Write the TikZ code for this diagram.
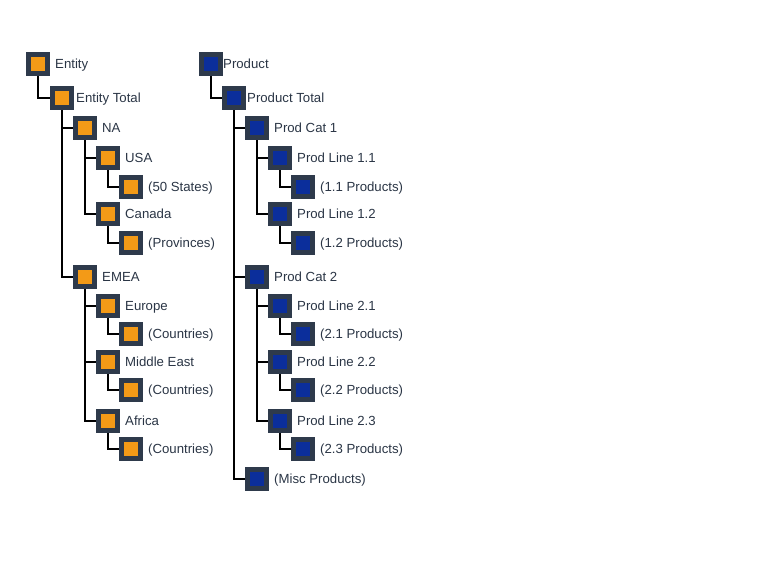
\documentclass[tikz,border=0pt]{standalone}
\usepackage{fontspec}
\setmainfont{Liberation Sans}
\definecolor{slate}{HTML}{2E3A4B}
\definecolor{amber}{HTML}{F39A17}
\definecolor{navy}{HTML}{0B2E9B}
\definecolor{ink}{HTML}{2A3545}
\begin{document}
\begin{tikzpicture}[x=1pt,y=-1pt,
    box/.style={draw=slate, line width=5pt, minimum size=19pt, inner sep=0pt},
    obox/.style={box, fill=amber},
    bbox/.style={box, fill=navy},
    lbl/.style={text=ink, font=\fontsize{13.2}{15}\selectfont, inner sep=1pt, text height=9.5pt, text depth=0pt},
    every label/.style={lbl},
    label distance=4pt,
    link/.style={line width=2.6pt, black}]
\useasboundingbox (0,0) rectangle (768,576);
% entity tree
\node at (38,64) (ent) [obox, label={right:Entity}] {};
\node at (62,98) (entt) [obox, label={[label distance=1pt]right:Entity Total}] {};
\node at (85,128) (na) [obox, label={right:NA}] {};
\node at (108,158) (usa) [obox, label={right:USA}] {};
\node at (131,187) (usast) [obox, label={right:(50 States)}] {};
\node at (108,214) (can) [obox, label={right:Canada}] {};
\node at (131,243) (canpr) [obox, label={right:(Provinces)}] {};
\node at (85,277) (emea) [obox, label={right:EMEA}] {};
\node at (108,306) (eur) [obox, label={right:Europe}] {};
\node at (131,334) (eurc) [obox, label={right:(Countries)}] {};
\node at (108,362) (me) [obox, label={right:Middle East}] {};
\node at (131,390) (mec) [obox, label={right:(Countries)}] {};
\node at (108,421) (afr) [obox, label={right:Africa}] {};
\node at (131,449) (afrc) [obox, label={right:(Countries)}] {};
% product tree
\node at (211,64) (prod) [bbox, label={[label distance=-1pt]right:Product}] {};
\node at (234,98) (prodt) [bbox, label={[label distance=0pt]right:Product Total}] {};
\node at (257,128) (cat1) [bbox, label={right:Prod Cat 1}] {};
\node at (280,158) (line11) [bbox, label={right:Prod Line 1.1}] {};
\node at (303,187) (prod11) [bbox, label={right:(1.1 Products)}] {};
\node at (280,214) (line12) [bbox, label={right:Prod Line 1.2}] {};
\node at (303,243) (prod12) [bbox, label={right:(1.2 Products)}] {};
\node at (257,277) (cat2) [bbox, label={right:Prod Cat 2}] {};
\node at (280,306) (line21) [bbox, label={right:Prod Line 2.1}] {};
\node at (303,334) (prod21) [bbox, label={right:(2.1 Products)}] {};
\node at (280,362) (line22) [bbox, label={right:Prod Line 2.2}] {};
\node at (303,390) (prod22) [bbox, label={right:(2.2 Products)}] {};
\node at (280,421) (line23) [bbox, label={right:Prod Line 2.3}] {};
\node at (303,449) (prod23) [bbox, label={right:(2.3 Products)}] {};
\node at (257,479) (misc) [bbox, label={right:(Misc Products)}] {};
% entity links
\draw [link] (ent.south) |- (entt.west);
\draw [link] (entt.south) |- (na.west);
\draw [link] (entt.south) |- (emea.west);
\draw [link] (na.south) |- (usa.west);
\draw [link] (na.south) |- (can.west);
\draw [link] (usa.south) |- (usast.west);
\draw [link] (can.south) |- (canpr.west);
\draw [link] (emea.south) |- (eur.west);
\draw [link] (emea.south) |- (me.west);
\draw [link] (emea.south) |- (afr.west);
\draw [link] (eur.south) |- (eurc.west);
\draw [link] (me.south) |- (mec.west);
\draw [link] (afr.south) |- (afrc.west);
% product links
\draw [link] (prod.south) |- (prodt.west);
\draw [link] (prodt.south) |- (cat1.west);
\draw [link] (prodt.south) |- (cat2.west);
\draw [link] (prodt.south) |- (misc.west);
\draw [link] (cat1.south) |- (line11.west);
\draw [link] (cat1.south) |- (line12.west);
\draw [link] (line11.south) |- (prod11.west);
\draw [link] (line12.south) |- (prod12.west);
\draw [link] (cat2.south) |- (line21.west);
\draw [link] (cat2.south) |- (line22.west);
\draw [link] (cat2.south) |- (line23.west);
\draw [link] (line21.south) |- (prod21.west);
\draw [link] (line22.south) |- (prod22.west);
\draw [link] (line23.south) |- (prod23.west);
\end{tikzpicture}
\end{document}
